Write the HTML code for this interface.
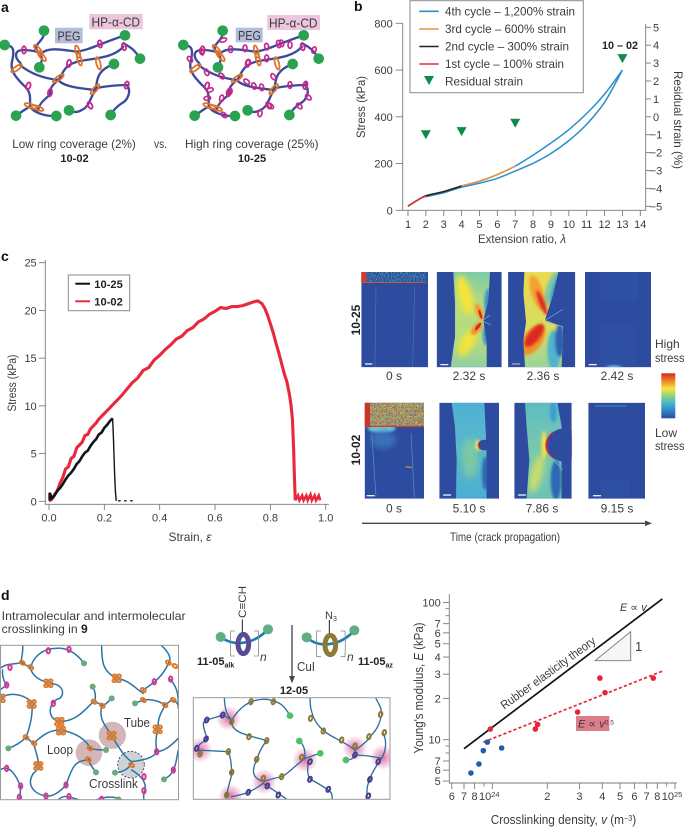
<!DOCTYPE html>
<html lang="en">
<head>
<meta charset="utf-8">
<title>Ring coverage and crosslinking figure</title>
<style>
html,body{margin:0;padding:0;background:#fff;}
svg#fig{display:block;width:685px;height:827px;}
text{font-family:"Liberation Sans","DejaVu Sans",sans-serif;fill:#3c3c3c;font-size:11px;}
.b{font-weight:bold;fill:#222;}
.panel{font-weight:bold;font-size:14px;fill:#111;}
.bar{fill:#e8ecf5;}
.t12{font-size:12px;}
.t13{font-size:13px;}
</style>
</head>
<body>
<svg id="fig" xmlns="http://www.w3.org/2000/svg" width="685" height="827" viewBox="0 0 685 827">
<defs>
  <linearGradient id="cbar" x1="0" y1="0" x2="0" y2="1">
    <stop offset="0" stop-color="#d5261f"/><stop offset=".18" stop-color="#f08a2a"/><stop offset=".34" stop-color="#f2e53c"/><stop offset=".52" stop-color="#84d08c"/><stop offset=".72" stop-color="#36a9d6"/><stop offset="1" stop-color="#2b4b9f"/>
  </linearGradient>
  <linearGradient id="s1" x1="0" y1="0" x2="0" y2="1"><stop offset="0" stop-color="#7ccaa8"/><stop offset=".35" stop-color="#b6dc80"/><stop offset=".7" stop-color="#b6dc80"/><stop offset="1" stop-color="#8fd0a0"/></linearGradient>
  <linearGradient id="s2" x1="0" y1="0" x2="0" y2="1"><stop offset="0" stop-color="#e8dc50"/><stop offset=".6" stop-color="#d8dc60"/><stop offset="1" stop-color="#9ad49a"/></linearGradient>
  <linearGradient id="s3" x1="0" y1="0" x2="0" y2="1"><stop offset="0" stop-color="#4fb0d6"/><stop offset=".5" stop-color="#5cbac8"/><stop offset="1" stop-color="#4aaed4"/></linearGradient>
  <linearGradient id="s4" x1="0" y1="0" x2="0" y2="1"><stop offset="0" stop-color="#5cbcc4"/><stop offset=".45" stop-color="#78c8ac"/><stop offset="1" stop-color="#6cc4b4"/></linearGradient>
  <radialGradient id="glow"><stop offset="0" stop-color="#d8408c" stop-opacity=".75"/><stop offset="1" stop-color="#d8408c" stop-opacity="0"/></radialGradient>
  <filter id="blur6" x="-60%" y="-60%" width="220%" height="220%"><feGaussianBlur stdDeviation="9"/></filter>
  <filter id="blur3" x="-60%" y="-60%" width="220%" height="220%"><feGaussianBlur stdDeviation="4"/></filter>
  <filter id="noiseA" x="0" y="0" width="1" height="1" color-interpolation-filters="sRGB">
    <feTurbulence type="fractalNoise" baseFrequency=".42" numOctaves="2" seed="4"/>
    <feColorMatrix values="3.2 0 0 0 -1.5  3.2 0 0 0 -1.5  3.2 0 0 0 -1.5  0 0 0 0 1"/>
    <feComponentTransfer><feFuncR type="table" tableValues=".17 .17 .2 .5 .85"/><feFuncG type="table" tableValues=".3 .35 .6 .8 .6"/><feFuncB type="table" tableValues=".62 .7 .75 .4 .2"/></feComponentTransfer>
  </filter>
  <filter id="noiseB" x="0" y="0" width="1" height="1" color-interpolation-filters="sRGB">
    <feTurbulence type="fractalNoise" baseFrequency=".42" numOctaves="2" seed="11"/>
    <feColorMatrix values="3.2 0 0 0 -1.1  3.2 0 0 0 -1.1  3.2 0 0 0 -1.1  0 0 0 0 1"/>
    <feComponentTransfer><feFuncR type="table" tableValues=".2 .4 .8 .9 .8"/><feFuncG type="table" tableValues=".5 .75 .8 .5 .2"/><feFuncB type="table" tableValues=".8 .65 .3 .2 .15"/></feComponentTransfer>
  </filter>
  <clipPath id="c-a"><path d="M340,36 L450,36 L445,120 L430,180 L440,250 L440,322 L332,322 L345,230 L345,130 Z"/></clipPath>
  <clipPath id="c-b"><path d="M553,35 L655,35 L640,100 L615,180 L670,200 L665,322 L555,322 L550,240 L558,185 L550,100 Z"/></clipPath>
  <clipPath id="c-c"><path d="M335,428 L433,428 L438,530 L440,600 L440,716 L348,716 L350,600 L345,500 Z"/></clipPath>
  <clipPath id="c-d"><path d="M555,428 L652,428 L665,500 L665,620 L665,716 L560,716 L568,600 L560,500 Z"/></clipPath>
</defs>

<!-- PANEL A -->
<g>
  <text class="panel" x="1" y="12">a</text>
  <g id="netLow" transform="scale(.33333)"></g>
  <g id="netHigh" transform="scale(.33333)"></g>
  <rect x="55" y="27.7" width="27.7" height="15.6" fill="#b6bdd9"/>
  <text class="t13" x="57.5" y="40.3" textLength="23" lengthAdjust="spacingAndGlyphs">PEG</text>
  <rect x="89.3" y="14" width="53.4" height="15.3" fill="#ecc6dc"/>
  <text class="t13" x="91.5" y="26.3" textLength="48.5" lengthAdjust="spacingAndGlyphs">HP-α-CD</text>
  <rect x="235.7" y="27.7" width="27" height="14.6" fill="#b6bdd9"/>
  <text class="t13" x="238" y="39.8" textLength="23" lengthAdjust="spacingAndGlyphs">PEG</text>
  <rect x="267.3" y="15" width="52.7" height="15" fill="#ecc6dc"/>
  <text class="t13" x="269" y="27.3" textLength="48.5" lengthAdjust="spacingAndGlyphs">HP-α-CD</text>
  <text class="t12" x="12.3" y="148" textLength="123.5" lengthAdjust="spacingAndGlyphs">Low ring coverage (2%)</text>
  <text class="t12" x="154" y="148" textLength="13" lengthAdjust="spacingAndGlyphs">vs.</text>
  <text class="t12" x="185" y="148" textLength="133.5" lengthAdjust="spacingAndGlyphs">High ring coverage (25%)</text>
  <text class="b" x="74.5" y="162" text-anchor="middle">10-02</text>
  <text class="b" x="252" y="162" text-anchor="middle">10-25</text>
</g>

<!-- PANEL B -->
<g id="chartB">
  <text class="panel" x="354" y="11">b</text>
  <rect x="410" y="0.7" width="173.3" height="92" fill="#fff" stroke="#8a8a8a" stroke-width="1"/>
  <line x1="419.3" x2="438.7" y1="11.3" y2="11.3" stroke="#2a8fcb" stroke-width="1.6"/>
  <line x1="419.3" x2="438.7" y1="29" y2="29" stroke="#f0913c" stroke-width="1.6"/>
  <line x1="419.3" x2="438.7" y1="46.5" y2="46.5" stroke="#222" stroke-width="1.6"/>
  <line x1="419.3" x2="438.7" y1="64" y2="64" stroke="#e0303c" stroke-width="1.6"/>
  <polygon points="424,76 434,76 429,85" fill="#0f8a4a"/>
  <text class="t12" x="445" y="15.5" textLength="130" lengthAdjust="spacingAndGlyphs">4th cycle – 1,200% strain</text>
  <text class="t12" x="445" y="33" textLength="121" lengthAdjust="spacingAndGlyphs">3rd cycle – 600% strain</text>
  <text class="t12" x="445" y="50.5" textLength="124" lengthAdjust="spacingAndGlyphs">2nd cycle – 300% strain</text>
  <text class="t12" x="445" y="68" textLength="119" lengthAdjust="spacingAndGlyphs">1st cycle – 100% strain</text>
  <text class="t12" x="445" y="85.5" textLength="78" lengthAdjust="spacingAndGlyphs">Residual strain</text>
  <text class="t12" transform="translate(365,107) rotate(-90)" text-anchor="middle" textLength="62" lengthAdjust="spacingAndGlyphs">Stress (kPa)</text>
  <text class="t12" transform="translate(674,120) rotate(90)" text-anchor="middle" textLength="98" lengthAdjust="spacingAndGlyphs">Residual strain (%)</text>
  <text class="t12" x="522" y="243" text-anchor="middle" textLength="88" lengthAdjust="spacingAndGlyphs">Extension ratio, <tspan font-style="italic">λ</tspan></text>
  <text class="b" x="602" y="49" textLength="36" lengthAdjust="spacingAndGlyphs">10 – 02</text>
</g>

<!-- PANEL C CHART -->
<g id="chartC">
  <text class="panel" x="1" y="261">c</text>
  <text class="t12" transform="translate(16,383) rotate(-90)" text-anchor="middle" textLength="57" lengthAdjust="spacingAndGlyphs">Stress (kPa)</text>
  <text class="t12" x="190" y="541" text-anchor="middle" textLength="43" lengthAdjust="spacingAndGlyphs">Strain, <tspan font-style="italic">ε</tspan></text>
  <rect x="68.3" y="275" width="61.4" height="35.7" fill="#fff" stroke="#8a8a8a"/>
  <line x1="75.3" x2="90" y1="283.7" y2="283.7" stroke="#111" stroke-width="2"/>
  <line x1="75.3" x2="90" y1="301.3" y2="301.3" stroke="#e8283c" stroke-width="2"/>
  <text class="b" x="94.3" y="288" textLength="28.5" lengthAdjust="spacingAndGlyphs">10-25</text>
  <text class="b" x="94.3" y="305.5" textLength="28.5" lengthAdjust="spacingAndGlyphs">10-02</text>
</g>

<!-- PANEL C IMAGES -->
<g>
  <text class="b" transform="translate(360,320) rotate(-90)" text-anchor="middle" style="font-size:12px">10-25</text>
  <text class="b" transform="translate(360,450) rotate(-90)" text-anchor="middle" style="font-size:12px">10-02</text>

  <svg x="361.3" y="272" width="66.7" height="95.3" viewBox="64 36 200 286">
    <rect x="64" y="36" width="200" height="286" fill="#2d4b9f"/>
    <rect x="64" y="36" width="194" height="32" filter="url(#noiseA)"/>
    <rect x="64" y="36" width="15" height="32" fill="#d93a2b"/>
    <rect x="64" y="66" width="194" height="3" fill="#c8583c"/>
    <path d="M108,80 L105,320 M224,80 L218,320" stroke="#4c94c8" stroke-width="2" fill="none" opacity=".6"/>
    <rect x="75" y="310" width="22" height="4" class="bar"/>
  </svg>

  <svg x="436.7" y="272" width="65" height="95.3" viewBox="290 36 195 286">
    <rect x="290" y="36" width="195" height="286" fill="#2d4b9f"/>
    <g clip-path="url(#c-a)">
      <rect x="290" y="36" width="195" height="286" fill="url(#s1)"/>
      <ellipse cx="445" cy="130" rx="12" ry="45" fill="#3a90cc" filter="url(#blur3)"/>
      <ellipse cx="440" cy="225" rx="12" ry="32" fill="#3a90cc" filter="url(#blur3)"/>
      <ellipse cx="375" cy="105" rx="22" ry="62" fill="#f4e43a" transform="rotate(-15 375 105)" filter="url(#blur6)"/>
      <ellipse cx="382" cy="248" rx="20" ry="46" fill="#f2e43a" transform="rotate(30 382 248)" filter="url(#blur6)"/>
      <ellipse cx="418" cy="155" rx="10" ry="26" fill="#f29a2c" transform="rotate(-20 418 155)" filter="url(#blur3)"/>
      <ellipse cx="410" cy="205" rx="11" ry="24" fill="#f0902c" transform="rotate(38 410 205)" filter="url(#blur3)"/>
      <ellipse cx="421" cy="163" rx="4" ry="15" fill="#d9281f" transform="rotate(-18 421 163)"/>
      <ellipse cx="414" cy="200" rx="5" ry="14" fill="#d9281f" transform="rotate(38 414 200)"/>
    </g>
    <path d="M430,180 L450,165 M430,184 L452,195" stroke="#7fb8d8" stroke-width="2"/>
    <rect x="301" y="312" width="24" height="4" class="bar"/>
  </svg>

  <svg x="508" y="272" width="67.3" height="95.3" viewBox="504 35 202 287">
    <rect x="504" y="35" width="202" height="287" fill="#2d4b9f"/>
    <g clip-path="url(#c-b)">
      <rect x="504" y="35" width="202" height="287" fill="url(#s2)"/>
      <ellipse cx="642" cy="270" rx="20" ry="60" fill="#50b4cc" filter="url(#blur3)"/>
      <ellipse cx="660" cy="240" rx="14" ry="50" fill="#2f62b0" filter="url(#blur3)"/>
      <ellipse cx="635" cy="85" rx="16" ry="55" fill="#7cc8a8" transform="rotate(18 635 85)" filter="url(#blur3)"/>
      <ellipse cx="650" cy="80" rx="10" ry="50" fill="#3490cc" transform="rotate(18 650 80)" filter="url(#blur3)"/>
      <ellipse cx="592" cy="98" rx="18" ry="55" fill="#f4a030" transform="rotate(-18 592 98)" filter="url(#blur3)"/>
      <ellipse cx="606" cy="128" rx="8" ry="40" fill="#dc2c20" transform="rotate(-22 606 128)" filter="url(#blur3)"/>
      <ellipse cx="578" cy="240" rx="28" ry="52" fill="#f0902c" transform="rotate(35 578 240)" filter="url(#blur3)"/>
      <ellipse cx="583" cy="226" rx="17" ry="42" fill="#dc2c20" transform="rotate(38 583 226)" filter="url(#blur3)"/>
    </g>
    <path d="M616,180 L668,148 M616,184 L670,200" stroke="#7fb8d8" stroke-width="2"/>
    <rect x="516" y="310" width="24" height="4" fill="#9fa8cc"/>
  </svg>

  <svg x="585" y="272" width="66" height="95.3" viewBox="735 36 198 286">
    <rect x="735" y="36" width="198" height="286" fill="#2d4b9f"/>
    <rect x="782" y="36" width="110" height="85" fill="#3358a8" opacity=".45"/>
    <rect x="780" y="195" width="110" height="127" fill="#3358a8" opacity=".35"/>
    <ellipse cx="822" cy="324" rx="24" ry="7" fill="#7ec8e4" filter="url(#blur3)"/>
    <rect x="746" y="312" width="24" height="4" class="bar"/>
  </svg>

  <svg x="364.7" y="402.7" width="59.3" height="96" viewBox="74 428 178 288">
    <rect x="74" y="428" width="178" height="288" fill="#2d4b9f"/>
    <ellipse cx="125" cy="505" rx="42" ry="14" fill="#67c6d8" filter="url(#blur3)"/>
    <ellipse cx="130" cy="540" rx="38" ry="26" fill="#3a70b8" filter="url(#blur6)"/>
    <rect x="74" y="428" width="178" height="71" filter="url(#noiseB)"/>
    <rect x="74" y="428" width="16" height="72" fill="#cc3428"/>
    <rect x="74" y="497" width="178" height="4" fill="#c94230"/>
    <path d="M95,520 L108,712 M213,520 L223,712" stroke="#5aa4c4" stroke-width="2.4" fill="none" opacity=".75"/>
    <path d="M196,620 L216,622" stroke="#d8a040" stroke-width="3"/>
    <rect x="80" y="705" width="24" height="4" class="bar"/>
  </svg>

  <svg x="439.3" y="402.7" width="59.7" height="96" viewBox="298 428 179 288">
    <rect x="298" y="428" width="179" height="288" fill="#2d4b9f"/>
    <g clip-path="url(#c-c)">
      <rect x="298" y="428" width="179" height="288" fill="url(#s3)"/>
      <ellipse cx="390" cy="595" rx="24" ry="60" fill="#82cc9c" opacity=".8" filter="url(#blur6)"/>
      <ellipse cx="412" cy="555" rx="7" ry="18" fill="#d8e060" filter="url(#blur3)"/>
      <ellipse cx="436" cy="640" rx="10" ry="50" fill="#2f68b4" filter="url(#blur3)"/>
    </g>
    <circle cx="428" cy="555" r="15" fill="#e23a28"/>
    <circle cx="433" cy="555" r="16" fill="#2d4b9f"/>
    <rect x="309" y="703" width="24" height="4" class="bar"/>
  </svg>

  <svg x="514.3" y="402.7" width="57.4" height="96" viewBox="523 428 172 288">
    <rect x="523" y="428" width="172" height="288" fill="#2d4b9f"/>
    <g clip-path="url(#c-d)">
      <rect x="523" y="428" width="172" height="288" fill="url(#s4)"/>
      <ellipse cx="590" cy="640" rx="18" ry="60" fill="#c8dc70" transform="rotate(15 590 640)" filter="url(#blur6)"/>
      <ellipse cx="612" cy="555" rx="8" ry="42" fill="#eee04a" filter="url(#blur3)"/>
      <ellipse cx="648" cy="660" rx="16" ry="60" fill="#2f68b4" filter="url(#blur3)"/>
      <ellipse cx="640" cy="455" rx="10" ry="32" fill="#3a9ed0" filter="url(#blur3)"/>
    </g>
    <circle cx="662" cy="555" r="46" fill="#e02a20"/>
    <circle cx="672" cy="555" r="50" fill="#2d4b9f"/>
    <path d="M640,510 L662,482 M640,600 L668,628" stroke="#7fb8d8" stroke-width="2"/>
    <rect x="534" y="703" width="24" height="4" class="bar"/>
  </svg>

  <svg x="588.3" y="402.7" width="56.7" height="96" viewBox="745 428 170 288">
    <rect x="745" y="428" width="170" height="288" fill="#2d4b9f"/>
    <path d="M765,438 L860,438" stroke="#4fa4c8" stroke-width="2.5" opacity=".8"/>
    <rect x="780" y="660" width="90" height="56" fill="#3358a8" opacity=".3"/>
    <rect x="759" y="705" width="24" height="4" class="bar"/>
  </svg>

  <text class="t12" x="394" y="380" text-anchor="middle">0 s</text>
  <text class="t12" x="469" y="380" text-anchor="middle">2.32 s</text>
  <text class="t12" x="543" y="380" text-anchor="middle">2.36 s</text>
  <text class="t12" x="617" y="380" text-anchor="middle">2.42 s</text>
  <text class="t12" x="394" y="512.5" text-anchor="middle">0 s</text>
  <text class="t12" x="469" y="512.5" text-anchor="middle">5.10 s</text>
  <text class="t12" x="542" y="512.5" text-anchor="middle">7.86 s</text>
  <text class="t12" x="617" y="512.5" text-anchor="middle">9.15 s</text>

  <rect x="661.3" y="373.3" width="14" height="45" fill="url(#cbar)"/>
  <text class="t12" x="655" y="348">High</text>
  <text class="t12" x="655" y="362" textLength="29.5" lengthAdjust="spacingAndGlyphs">stress</text>
  <text class="t12" x="655" y="437">Low</text>
  <text class="t12" x="655" y="450" textLength="29.5" lengthAdjust="spacingAndGlyphs">stress</text>

  <line x1="362" y1="523.3" x2="647" y2="523.3" stroke="#3c4a52" stroke-width="1.3"/>
  <polygon points="652,523.3 645,520.5 645,526.1" fill="#3c4a52"/>
  <text class="t12" x="505" y="541" text-anchor="middle" textLength="110" lengthAdjust="spacingAndGlyphs">Time (crack propagation)</text>
</g>

<!-- PANEL D -->
<g>
  <text class="panel" x="1" y="600">d</text>
  <text class="t12" x="1.7" y="620" textLength="184" lengthAdjust="spacingAndGlyphs">Intramolecular and intermolecular</text>
  <text class="t12" x="1.7" y="633" textLength="86" lengthAdjust="spacingAndGlyphs">crosslinking in <tspan class="b">9</tspan></text>

  <svg x="0" y="645.3" width="178.5" height="154.4" viewBox="0 346 535.5 463">
    <rect x="0" y="346" width="535.5" height="463" fill="#fff"/>
    <circle cx="267" cy="668" r="40" fill="#d3b6b8"/>
    <circle cx="337" cy="616" r="40" fill="#d3b6b8" stroke="#a88" stroke-width="1.5" stroke-dasharray="4 4"/>
    <circle cx="393" cy="704" r="40" fill="#cfd3d6" stroke="#333" stroke-width="2.5" stroke-dasharray="6 5"/>
    <g id="netD1"></g>
  </svg>
  <rect x="0.5" y="645.3" width="178" height="154.4" fill="none" stroke="#9a9a9a" stroke-width="1"/>
  <text class="t13" x="47" y="754" textLength="26" lengthAdjust="spacingAndGlyphs">Loop</text>
  <text class="t13" x="124" y="727" textLength="26" lengthAdjust="spacingAndGlyphs">Tube</text>
  <text class="t13" x="89" y="788" textLength="49" lengthAdjust="spacingAndGlyphs">Crosslink</text>

  <g transform="translate(190,530) scale(.33333)">
    <path d="M92,321 C130,350 190,345 234,298" fill="none" stroke="#1f7ab0" stroke-width="8"/>
    <line x1="157" y1="268" x2="157" y2="312" stroke="#222" stroke-width="3"/>
    <ellipse cx="160" cy="342" rx="16" ry="29" fill="none" stroke="#5a4a94" stroke-width="15"/>
    <circle cx="92" cy="321" r="15" fill="#5fae84"/><circle cx="234" cy="298" r="15" fill="#5fae84"/>
    <path d="M135,303 L122,303 Q120,340 122,378 L135,378 M192,303 L205,303 Q207,340 205,378 L192,378" fill="none" stroke="#888" stroke-width="2.5"/>
    <path d="M350,322 C385,355 450,350 493,301" fill="none" stroke="#1f7ab0" stroke-width="8"/>
    <line x1="418" y1="270" x2="418" y2="316" stroke="#222" stroke-width="3"/>
    <ellipse cx="421" cy="345" rx="16" ry="29" fill="none" stroke="#8c7a36" stroke-width="15"/>
    <circle cx="350" cy="322" r="15" fill="#5fae84"/><circle cx="493" cy="301" r="15" fill="#5fae84"/>
    <path d="M393,303 L380,303 Q378,340 380,380 L393,380 M452,303 L465,303 Q467,340 465,380 L452,380" fill="none" stroke="#888" stroke-width="2.5"/>
    <line x1="306" y1="285" x2="306" y2="445" stroke="#3c4a52" stroke-width="4"/>
    <polygon points="306,460 297,438 315,438" fill="#3c4a52"/>
  </g>
  <text transform="translate(246,618) rotate(-90)" text-anchor="start" textLength="32" lengthAdjust="spacingAndGlyphs">C≡CH</text>
  <text x="325" y="619">N<tspan dy="2" style="font-size:7px">3</tspan></text>
  <text class="t12" x="260" y="661" font-style="italic">n</text>
  <text class="t12" x="347" y="661" font-style="italic">n</text>
  <text class="b" x="197" y="665">11-05<tspan dy="2.5" style="font-size:7px">alk</tspan></text>
  <text class="b" x="358" y="665">11-05<tspan dy="2.5" style="font-size:7px">az</tspan></text>
  <text class="t13" x="297" y="671" textLength="18" lengthAdjust="spacingAndGlyphs">CuI</text>
  <text class="b" x="294" y="694" text-anchor="middle">12-05</text>

  <svg x="193.3" y="697.7" width="196.7" height="101.6" viewBox="10 503 590 305">
    <rect x="10" y="503" width="590" height="305" fill="#fff"/>
    <g id="netD2"></g>
  </svg>
  <rect x="193.3" y="697.7" width="196.7" height="101.6" fill="none" stroke="#9a9a9a" stroke-width="1"/>
</g>

<g id="chartD">
  <text class="t13" transform="translate(423,688) rotate(-90)" text-anchor="middle" textLength="131" lengthAdjust="spacingAndGlyphs">Young's modulus, <tspan font-style="italic">E</tspan> (kPa)</text>
  <text class="t13" x="490.7" y="824" textLength="145.5" lengthAdjust="spacingAndGlyphs">Crosslinking density, <tspan font-style="italic">v</tspan> (m<tspan dy="-3" style="font-size:8px">−3</tspan><tspan dy="3">)</tspan></text>
  <polygon points="595,660.7 630.7,660.7 630.7,631.7" fill="#f6f6f6" stroke="#777" stroke-width=".9"/>
  <text class="t13" x="635" y="651">1</text>
  <text x="620" y="611" font-style="italic">E ∝ v</text>
  <rect x="576" y="716" width="33.3" height="15" fill="#de7c88"/>
  <text x="578" y="727.5" font-style="italic">E ∝ v<tspan dy="-3" style="font-size:6.5px" font-style="normal">0.5</tspan></text>
  <text class="t12" transform="translate(551,677) rotate(-36)" text-anchor="middle" dy="-1" textLength="114" lengthAdjust="spacingAndGlyphs">Rubber elasticity theory</text>
</g>
</svg>

<script>
/* ---------- chart data ---------- */
const bXTicks = [1,2,3,4,5,6,7,8,9,10,11,12,13,14];
const bYTicks = [0,200,400,600,800];
const bRightTicks = [-5,-4,-3,-2,-1,0,1,2,3,4,5];
const cycle4LoadLambda = [1,1.5,2,3,4,5,6,7,8,9,10,11,12,13];
const cycle4LoadStress = [18,42,62,80,104,124,153,189,236,288,345,414,497,600];
const cycle4UnloadLambda = [13,12,11,10,9,8,7,6,5,4,3,2];
const cycle4UnloadStress = [600,462,368,298,243,201,168,137,116,99,75,58];
const cycle3Lambda = [1,1.5,2,3,4,5,6,7];
const cycle3Stress = [18,42,62,80,104,125,153,189];
const cycle2Lambda = [1,1.5,2,3,4];
const cycle2Stress = [18,42,62,80,104];
const cycle1Lambda = [1,1.25,1.5,1.75,2];
const cycle1Stress = [18,30,42,53,60];
const residualLambda = [2,4,7,13];
const residualStrain = [-1.0,-0.83,-0.36,3.25];

const cXTicks = [0,0.2,0.4,0.6,0.8,1.0];
const cXLabels = ['0.0','0.2','0.4','0.6','0.8','1.0'];
const cYTicks = [0,5,10,15,20,25];
const redStrain = [0.002,0.004,0.01,0.02,0.03,0.04,0.05,0.06,0.07,0.08,0.09,0.10,0.11,0.12,0.13,0.14,0.15,0.16,0.17,0.18,0.19,0.20,0.22,0.24,0.26,0.28,0.30,0.32,0.34,0.36,0.38,0.40,0.42,0.44,0.46,0.48,0.50,0.52,0.54,0.56,0.58,0.60,0.62,0.64,0.66,0.68,0.70,0.72,0.74,0.755,0.77,0.78,0.79,0.80,0.81,0.82,0.83,0.84,0.85,0.86,0.87,0.875,0.88,0.884,0.887,0.89];
const redStress = [0.9,0.1,0.2,0.7,1.1,1.9,2.5,3.4,3.6,4.5,4.7,5.6,5.9,6.2,6.9,7.0,7.6,7.9,8.2,8.6,8.9,9.2,9.8,10.4,11.0,11.7,12.4,12.9,13.7,14.0,14.8,15.3,15.9,16.4,17.0,17.3,17.9,18.2,18.8,19.1,19.6,19.9,20.3,20.2,20.4,20.4,20.5,20.7,20.9,21.0,20.7,20.2,19.5,18.6,17.7,16.6,15.6,14.5,13.4,12.5,11.0,10.0,8.5,5.5,2.5,0.1];
const redTailStrain = [0.89,0.90,0.905,0.915,0.92,0.93,0.935,0.945,0.95,0.96,0.965,0.975,0.98];
const redTailStress = [0.1,0.6,0.1,0.6,0.1,0.6,0.1,0.7,0.1,0.6,0.1,0.6,0.1];
const blackStrain = [0.002,0.004,0.01,0.02,0.03,0.04,0.05,0.06,0.07,0.08,0.09,0.10,0.11,0.12,0.13,0.14,0.15,0.16,0.17,0.18,0.19,0.20,0.21,0.22,0.23];
const blackStress = [0.1,0.8,0.3,0.6,1.1,1.4,1.8,2.3,2.7,3.0,3.4,3.9,4.2,4.7,5.1,5.3,5.8,6.2,6.5,7.0,7.2,7.7,8.0,8.4,8.7];
const blackFallStrain = [0.23,0.233,0.237,0.24,0.243];
const blackFallStress = [8.7,6.5,3.0,1.0,0.05];
const blackTailStrain = [0.25,0.31];
const blackTailStress = [0.05,0.05];

const dXTicks = [0.6,0.7,0.8,0.9,1,2,3,4,5,6,7,8,9,10];
const dXLabels = ['6','7','8','','10','2','3','4','5','6','7','8','','10'];
const dXExponents = ['','','','','24','','','','','','','','','25'];
const dYTicks = [5,6,7,8,9,10,20,30,40,50,60,70,80,90,100];
const dYLabels = ['5','6','7','','','10','2','3','4','5','6','7','','','100'];
const blueDensity = [0.764,0.845,0.893,0.939,1.125];
const blueModulus = [5.72,6.65,8.32,9.6,8.7];
const redDensity = [0.975,1.72,1.77,2.93,3.88,4.14,7.6];
const redModulus = [11.95,11.95,12.9,15.9,28.1,22.0,28.1];
const theoryDensity = [0.70,8.52];
const theoryModulus = [8.6,106];
const fitDensity = [0.893,8.65];
const fitModulus = [9.6,31.8];

/* ---------- illustration layouts (scaled drawing units) ---------- */
const chainsA = [
 "M14,135 C50,135 40,165 35,190 C32,215 50,235 70,255 C95,275 90,295 90,320 C100,335 130,350 169,348",
 "M62,190 C40,170 45,150 70,150 C95,150 110,155 125,160 C145,140 190,150 230,155 C270,150 300,130 375,106",
 "M132,92 C135,125 100,130 110,150 C120,170 135,165 118,202",
 "M370,130 C390,140 405,150 420,176",
 "M60,195 C90,220 130,235 175,240 C190,225 185,195 240,183 C280,175 340,175 370,140",
 "M175,240 C150,260 150,270 150,285 C130,300 115,315 115,330 C105,335 100,325 90,320",
 "M175,240 C190,260 240,265 285,270 C295,250 280,215 342,192",
 "M285,265 C310,260 350,255 380,255 C395,270 385,300 365,310 C350,320 340,330 332,345",
 "M290,265 C270,290 270,320 245,330 C230,340 215,335 207,331",
 "M90,320 C70,330 60,340 48,347"];
const ballsA = [[132,92],[14,135],[118,202],[375,106],[420,176],[342,192],[48,347],[169,348],[207,331],[332,345]];
const orangeA = [[50,205,-35],[175,235,-35],[115,150,50],[125,168,50],[92,318,20],[112,324,20],[233,155,75],[238,178,75],[295,190,75],[285,268,-50]];
const pinkA = [[72,150,0],[85,258,20],[150,278,10],[207,190,10],[270,316,-30],[300,132,-10],[372,140,-10],[380,255,15]];
const pinkExtra = [[34,178,-40],[69,155,-20],[134,120,70],[156,148,0],[199,145,0],[264,140,-10],[309,130,-10],[334,135,0],[406,150,20],[209,188,10],[264,175,0],[84,217,-20],[129,228,-40],[204,245,-50],[226,258,-20],[249,262,-10],[334,255,0],[379,258,0],[389,292,-50],[362,318,-45],[276,318,-50],[244,340,10],[154,275,15],[129,295,10],[94,270,70],[86,295,80],[136,345,-50],[284,230,-30]];

const chainsD1 = [
 "M68,347 C70,375 60,395 65,398 L90,412 C100,450 140,455 145,460 C190,460 195,490 180,505 C150,510 135,560 175,575",
 "M92,412 C100,380 130,355 165,355 C200,350 230,370 252,400",
 "M305,347 C305,400 310,425 350,445 C390,450 410,480 430,490",
 "M485,347 C510,370 515,390 505,400 C495,425 480,440 465,455 L430,480",
 "M430,510 C460,505 480,515 495,525 L515,510 C530,515 535,520 535,535",
 "M405,520 L430,510",
 "M278,470 C290,490 285,505 285,515 L310,527",
 "M335,505 C320,520 315,525 305,527",
 "M305,530 C295,570 320,590 330,610 C350,640 370,680 395,695 C430,690 460,685 470,665 C465,630 470,610 475,600 C470,560 490,540 495,525",
 "M185,575 C230,570 250,545 280,515",
 "M185,600 C230,610 260,630 270,655 C285,660 310,660 318,660",
 "M265,685 C270,710 285,720 288,727",
 "M265,690 C220,690 215,720 198,765 C180,785 160,800 140,798 C110,795 75,770 100,730 C120,715 110,710 115,705",
 "M180,600 C140,600 120,625 100,640 L78,622 C90,590 100,550 95,515 C60,485 20,490 0,505",
 "M78,622 C60,640 40,650 25,655",
 "M100,640 C110,670 115,690 115,700",
 "M0,415 C20,400 30,405 65,398",
 "M8,420 C5,440 15,460 20,465 L0,480",
 "M0,720 C30,700 50,740 62,770 C60,790 62,800 58,809",
 "M395,700 C385,720 360,728 345,728",
 "M395,720 C420,735 440,755 435,780 C430,795 430,800 432,809",
 "M470,665 C495,665 520,640 535,625",
 "M490,748 C510,740 515,730 520,720 C530,700 530,680 535,660",
 "M510,447 C530,470 535,490 535,520",
 "M175,809 C190,795 200,798 235,809",
 "M290,809 C320,798 345,800 365,809"];
const ballsD1 = [[252,400],[278,470],[335,505],[405,520],[25,655],[318,660],[288,727],[345,728],[492,748],[355,808]];
const blocksD1 = [[145,460],[350,445],[95,522],[178,575],[183,602],[115,708],[473,598],[335,617],[2,505]];
const pairsD1 = [[67,398],[92,412],[282,515],[307,527],[78,622],[102,640],[270,655],[265,688],[395,705],[430,480],[430,510],[495,525],[520,510],[505,398],[525,408]];
const pinkD1 = [[145,362],[207,358],[30,412],[20,465],[160,520],[463,455],[512,447],[470,665],[520,720],[432,740],[432,782],[62,768],[58,802],[20,715],[138,798],[207,800],[198,765],[305,808]];

const chainsD2 = [
 "M103,505 C105,540 110,555 125,570 L100,555 L50,570 C30,575 45,600 50,625 C40,640 20,640 25,660 L30,672",
 "M125,570 C150,530 180,510 215,508 C240,505 250,515 258,515",
 "M125,570 C120,610 175,615 230,632 C200,670 205,685 200,690 C185,720 185,745 220,755",
 "M300,557 C280,520 260,515 250,515",
 "M360,505 C360,560 385,590 405,605 C430,625 455,630 495,660 C520,645 540,625 540,620 C570,590 570,570 575,555 C575,530 565,520 558,505",
 "M495,660 C495,690 480,690 468,690",
 "M495,675 C520,675 550,680 575,685 C590,660 590,630 580,610",
 "M330,633 C345,650 345,665 345,685 C300,720 290,735 275,740 C250,745 235,750 220,755",
 "M345,685 L390,670",
 "M355,695 C350,730 355,745 365,750 C385,760 400,770 415,780 C430,790 425,800 427,808",
 "M20,660 L115,665 C125,690 125,730 125,735 C115,770 110,790 110,800",
 "M220,760 C190,780 180,790 125,800",
 "M220,760 C250,780 280,800 290,808",
 "M575,685 C550,720 540,740 535,760 C530,775 530,790 532,808"];
const glowsD2 = [[115,565],[30,660],[345,690],[495,655],[578,682],[222,755],[122,800]];
const olivesD2 = [[183,515],[250,515],[362,565],[400,603],[455,630],[537,620],[572,553],[583,608],[177,620],[230,632],[115,665],[200,688],[275,740],[125,727],[30,672],[125,575],[335,682],[220,745],[495,648],[110,795]];
const purplesD2 = [[98,555],[50,570],[48,627],[20,655],[360,748],[415,778],[175,787],[265,795],[495,675],[540,748],[535,798],[565,695],[360,695],[232,768]];
const ballsD2 = [[300,557],[328,633],[391,670],[468,690]];

/* ---------- helpers ---------- */
const NS = 'http://www.w3.org/2000/svg';
function mk(tag, attrs, parent){
  const n = document.createElementNS(NS, tag);
  for (const k in attrs) n.setAttribute(k, attrs[k]);
  parent.appendChild(n);
  return n;
}
function smoothPath(pts){
  let d = 'M' + pts[0][0] + ',' + pts[0][1];
  for (let i = 0; i < pts.length - 1; i++){
    const p0 = pts[Math.max(i-1,0)], p1 = pts[i], p2 = pts[i+1], p3 = pts[Math.min(i+2,pts.length-1)];
    d += ' C' + (p1[0]+(p2[0]-p0[0])/6) + ',' + (p1[1]+(p2[1]-p0[1])/6) + ' ' + (p2[0]-(p3[0]-p1[0])/6) + ',' + (p2[1]-(p3[1]-p1[1])/6) + ' ' + p2[0] + ',' + p2[1];
  }
  return d;
}
function linePath(pts){ return 'M' + pts.map(p => p[0] + ',' + p[1]).join(' L'); }
function zip(xs, ys, fx, fy){ return xs.map((v,i) => [fx(v), fy(ys[i])]); }
const AX = '#7a7a7a';

/* ---------- chart b ---------- */
(function(){
  const g = document.getElementById('chartB');
  const x = l => 408 + (l-1)*17.87;
  const y = s => 210.3 - s*0.23375;
  const yr = r => 116.8 - r*17.9;
  const leftSpine = mk('path',{d:'M402.7,23.3 L402.7,210.3 L645.7,210.3 L645.7,24',fill:'none',stroke:AX,'stroke-width':.9},g);
  
  
  bXTicks.forEach(t => {
    const tk = mk('line',{x1:x(t),x2:x(t),y1:210.3,y2:216,stroke:AX,'stroke-width':.9},g);
    
    
    const lb = mk('text',{x:x(t),y:228,'text-anchor':'middle'},g);
    
    
    lb.textContent = t;
  });
  bYTicks.forEach(t => {
    const tk = mk('line',{x1:395.7,x2:402.7,y1:y(t),y2:y(t),stroke:AX,'stroke-width':.9},g);
    
    
    const lb = mk('text',{x:392.7,y:y(t)+4,'text-anchor':'end'},g);
    
    
    lb.textContent = t;
  });
  bRightTicks.forEach(t => {
    const tk = mk('line',{x1:645.7,x2:651,y1:yr(t),y2:yr(t),stroke:AX,'stroke-width':.9},g);
    
    
    const lb = mk('text',{x:656,y:yr(t)+4,'text-anchor':'middle'},g);
    
    
    lb.textContent = t < 0 ? '−' + (-t) : t;
  });
  const c4a = mk('path',{d:smoothPath(zip(cycle4LoadLambda,cycle4LoadStress,x,y)),fill:'none',stroke:'#2a8fcb','stroke-width':1.5},g);
  
  
  const c4b = mk('path',{d:smoothPath(zip(cycle4UnloadLambda,cycle4UnloadStress,x,y)),fill:'none',stroke:'#2a8fcb','stroke-width':1.5},g);
  
  
  const c3 = mk('path',{d:smoothPath(zip(cycle3Lambda,cycle3Stress,x,y)),fill:'none',stroke:'#f0913c','stroke-width':1.5},g);
  
  
  const c2 = mk('path',{d:smoothPath(zip(cycle2Lambda,cycle2Stress,x,y)),fill:'none',stroke:'#222','stroke-width':1.5},g);
  
  
  const c1 = mk('path',{d:smoothPath(zip(cycle1Lambda,cycle1Stress,x,y)),fill:'none',stroke:'#e0303c','stroke-width':1.5},g);
  
  
  residualLambda.forEach((l,i) => {
    const cx = x(l), cy = yr(residualStrain[i]);
    const m = mk('polygon',{points:(cx-5)+','+(cy-4.5)+' '+(cx+5)+','+(cy-4.5)+' '+cx+','+(cy+4.5),fill:'#0f8a4a'},g);
    
    
  });
})();

/* ---------- chart c ---------- */
(function(){
  const g = document.getElementById('chartC');
  const x = e => 49 + e*276.7;
  const y = s => 501.3 - s*9.544;
  const ax = mk('path',{d:'M45.3,260 L45.3,504.3 L329,504.3',fill:'none',stroke:AX,'stroke-width':.9},g);
  
  
  cXTicks.forEach((t,i) => {
    const tk = mk('line',{x1:x(t),x2:x(t),y1:504.3,y2:510,stroke:AX,'stroke-width':.9},g);
    
    
    const lb = mk('text',{x:x(t),y:521.7,'text-anchor':'middle'},g);
    
    
    lb.textContent = cXLabels[i];
  });
  cYTicks.forEach(t => {
    const tk = mk('line',{x1:39,x2:45.3,y1:y(t),y2:y(t),stroke:AX,'stroke-width':.9},g);
    
    
    const lb = mk('text',{x:36.7,y:y(t)+4,'text-anchor':'end'},g);
    
    
    lb.textContent = t;
  });
  const r = mk('path',{d:linePath(zip(redStrain,redStress,x,y)),fill:'none',stroke:'#e8283c','stroke-width':3.1,'stroke-linejoin':'round'},g);
  
  
  const rt = mk('path',{d:linePath(zip(redTailStrain,redTailStress,x,y)),fill:'none',stroke:'#e8283c','stroke-width':2.6},g);
  
  
  const b = mk('path',{d:linePath(zip(blackStrain,blackStress,x,y)),fill:'none',stroke:'#10141c','stroke-width':2.6,'stroke-linejoin':'round'},g);
  
  
  const bf = mk('path',{d:linePath(zip(blackFallStrain,blackFallStress,x,y)),fill:'none',stroke:'#10141c','stroke-width':1.4},g);
  
  
  const bt = mk('path',{d:linePath(zip(blackTailStrain,blackTailStress,x,y)),fill:'none',stroke:'#10141c','stroke-width':1.4,'stroke-dasharray':'2.5 3.5'},g);
  
  
})();

/* ---------- chart d ---------- */
(function(){
  const g = document.getElementById('chartD');
  const x = v => 492.3 + Math.log10(v)*182.7;
  const y = e => 739.7 - Math.log10(e/10)*137.3;
  const ax = mk('path',{d:'M449.3,594 L449.3,783 L676.7,783',fill:'none',stroke:AX,'stroke-width':.9},g);
  
  
  dXTicks.forEach((t,i) => {
    const tk = mk('line',{x1:x(t),x2:x(t),y1:783,y2:dXLabels[i]?789:786.5,stroke:AX,'stroke-width':.9},g);
    
    
    if (dXLabels[i]) {
      const lb = mk('text',{x:x(t) - (dXExponents[i] ? 3 : 0),y:800,'text-anchor':'middle'},g);
      
      
      lb.textContent = dXLabels[i];
      if (dXExponents[i]) {
        const sup = mk('tspan',{dy:-3,style:'font-size:7.5px'},lb);
        sup.textContent = dXExponents[i];
      }
    }
  });
  dYTicks.forEach((t,i) => {
    const tk = mk('line',{x1:dYLabels[i]?443:445.5,x2:449.3,y1:y(t),y2:y(t),stroke:AX,'stroke-width':.9},g);
    
    
    if (dYLabels[i]) {
      const lb = mk('text',{x:440.7,y:y(t)+4,'text-anchor':'end'},g);
      
      
      lb.textContent = dYLabels[i];
    }
  });
  const th = mk('path',{d:linePath(zip(theoryDensity,theoryModulus,x,y)),fill:'none',stroke:'#111','stroke-width':1.7},g);
  
  
  const ft = mk('path',{d:linePath(zip(fitDensity,fitModulus,x,y)),fill:'none',stroke:'#e8283c','stroke-width':1.7,'stroke-dasharray':'3.2 2.2'},g);
  
  
  blueDensity.forEach((v,i) => {
    const c = mk('circle',{cx:x(v),cy:y(blueModulus[i]),r:2.8,fill:'#1c5ea8'},g);
    
    
  });
  redDensity.forEach((v,i) => {
    const c = mk('circle',{cx:x(v),cy:y(redModulus[i]),r:2.8,fill:'#e6233a'},g);
    
    
  });
})();

/* ---------- illustrations ---------- */
function drawChains(parent, list, color, w){
  list.forEach(d => {
    const p = mk('path',{d:d,fill:'none',stroke:color,'stroke-width':w,'stroke-linecap':'round'},parent);
    
    
  });
}
function drawBalls(parent, list, color, r){
  list.forEach(b => {
    const c = mk('circle',{cx:b[0],cy:b[1],r:r,fill:color},parent);
    
    
  });
}
function drawRing(parent, px, py, rx, ry, rot, color, sw){
  const e = mk('ellipse',{cx:px,cy:py,rx:rx,ry:ry,fill:'none',stroke:color,'stroke-width':sw,transform:'rotate('+rot+' '+px+' '+py+')'},parent);
  
  
}
function drawNetworkA(host, dx, withExtra){
  const g = mk('g',{transform:'translate('+dx+',0)'},host);
  
  
  drawChains(g, chainsA, '#3a4a9e', 7);
  orangeA.forEach(r => drawRing(g, r[0], r[1], 19, 6, r[2], '#e2742a', 5.5));
  pinkA.forEach(r => drawRing(g, r[0], r[1], 6, 11, r[2], '#c8288c', 5.5));
  if (withExtra) pinkExtra.forEach(r => drawRing(g, r[0], r[1], 6, 10, r[2], '#c8288c', 5));
  drawBalls(g, ballsA, '#29a350', 16);
}
drawNetworkA(document.getElementById('netLow'), 0, false);
drawNetworkA(document.getElementById('netHigh'), 536, true);

(function(){
  const g = document.getElementById('netD1');
  drawChains(g, chainsD1, '#2a74a8', 4.5);
  drawBalls(g, ballsD1, '#6aaa7c', 9);
  pinkD1.forEach(r => drawRing(g, r[0], r[1], 5, 8, 0, '#d03a96', 6));
  pairsD1.forEach(r => drawRing(g, r[0], r[1], 8, 5, 35, '#e07826', 6));
  blocksD1.forEach(b => {
    const bg = mk('rect',{x:b[0]-9,y:b[1]-9,width:18,height:18,fill:'#9aa0a4'},g);
    
    
    [[-7,-7],[7,-7],[-7,7],[7,7]].forEach(o => drawRing(g, b[0]+o[0], b[1]+o[1], 6, 5, 0, '#e07826', 5));
  });
})();

(function(){
  const g = document.getElementById('netD2');
  glowsD2.forEach(h => {
    const c = mk('circle',{cx:h[0],cy:h[1],r:38,fill:'url(#glow)'},g);
    
    
  });
  drawChains(g, chainsD2, '#2a6f9c', 4);
  drawBalls(g, ballsD2, '#4fbf68', 10);
  olivesD2.forEach(r => drawRing(g, r[0], r[1], 5, 8, 15, '#8c7a36', 6));
  purplesD2.forEach(r => drawRing(g, r[0], r[1], 5, 8, 25, '#4a3c8c', 6));
})();
</script>
</body>
</html>
